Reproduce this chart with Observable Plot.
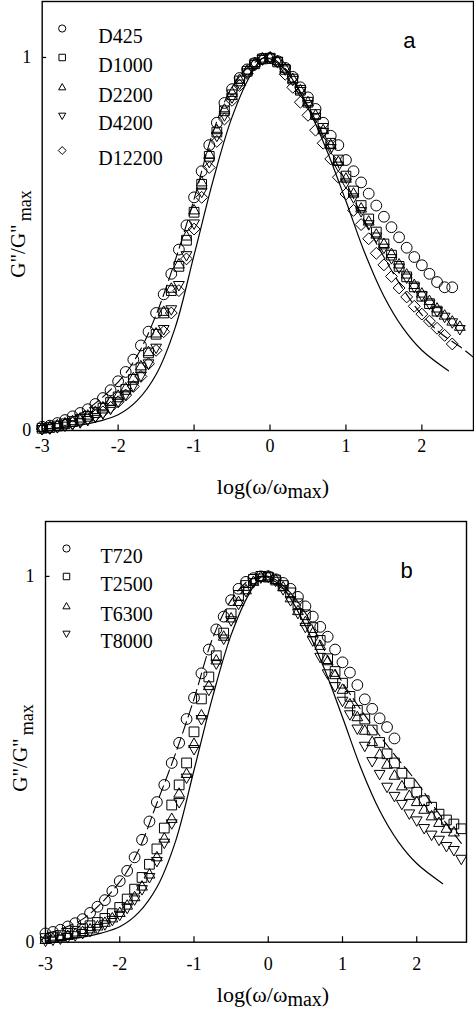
<!DOCTYPE html>
<html>
<head>
<meta charset="utf-8">
<script src="https://cdn.jsdelivr.net/npm/d3@7"></script>
<script src="https://cdn.jsdelivr.net/npm/@observablehq/plot@0.6"></script>
<style>
  body { margin: 0; background: #fff; }
  #chart { width: 474px; }
  #chart svg { display: block; }
  #chart svg text, #chart svg tspan { font-family: "Liberation Serif", "Times New Roman", Times, "DejaVu Serif", serif; }
  #chart svg g.letter text { font-family: "Liberation Sans", Arial, "DejaVu Sans", sans-serif; }
</style>
</head>
<body>
<div id="chart"></div>
<script>
// ---------- panel a: polymer series D ----------
const xA = [-3.0, -2.9, -2.8, -2.7, -2.6, -2.5, -2.4, -2.3, -2.2, -2.1,
            -2.0, -1.9, -1.8, -1.7, -1.6, -1.5, -1.4, -1.3, -1.2, -1.1,
            -1.0, -0.9, -0.8, -0.7, -0.6, -0.5, -0.4, -0.3, -0.2, -0.1,
             0.0,  0.1,  0.2,  0.3,  0.4,  0.5,  0.6,  0.7,  0.8,  0.9,
             1.0,  1.1,  1.2,  1.3,  1.4,  1.5,  1.6,  1.7,  1.8,  1.9,
             2.0,  2.1,  2.2,  2.3,  2.4,  2.5];
const seriesA = ["D425", "D1000", "D2200", "D4200", "D12200"];
const D425 = [0.010, 0.013, 0.020, 0.028, 0.038, 0.047, 0.057, 0.071, 0.087, 0.108,
              0.132, 0.157, 0.190, 0.228, 0.265, 0.315, 0.365, 0.420, 0.485, 0.550,
              0.625, 0.695, 0.765, 0.825, 0.878, 0.915, 0.945, 0.968, 0.985, 0.997,
              0.998, 0.990, 0.972, 0.948, 0.920, 0.893, 0.862, 0.825, 0.790, 0.765,
              0.725, 0.695, 0.665, 0.635, 0.603, 0.573, 0.545, 0.518, 0.490, 0.465,
              0.443, 0.420, 0.398, 0.384, 0.384, null];
const D1000 = [0.006, 0.008, 0.012, 0.018, 0.024, 0.030, 0.038, 0.048, 0.060, 0.075,
               0.090, 0.110, 0.137, 0.168, 0.208, 0.258, 0.315, 0.375, 0.440, 0.510,
               0.585, 0.660, 0.735, 0.800, 0.857, 0.900, 0.937, 0.963, 0.983, 0.996,
               0.998, 0.988, 0.968, 0.942, 0.912, 0.880, 0.847, 0.810, 0.770, 0.725,
               0.682, 0.642, 0.603, 0.567, 0.532, 0.500, 0.470, 0.440, 0.412, 0.385,
               0.360, 0.340, 0.320, null, null, null];
const D2200 = [0.007, 0.010, 0.014, 0.019, 0.025, 0.032, 0.040, 0.050, 0.062, 0.077,
               0.093, 0.113, 0.140, 0.172, 0.210, 0.260, 0.318, 0.380, 0.445, 0.520,
               0.590, 0.665, 0.740, 0.805, 0.860, 0.905, 0.940, 0.965, 0.985, 0.997,
               0.999, 0.990, 0.970, 0.942, 0.912, 0.880, 0.845, 0.805, 0.765, 0.720,
               0.675, 0.635, 0.595, 0.560, 0.525, 0.500, 0.473, 0.445, 0.418, 0.390,
               0.367, 0.347, 0.327, 0.308, 0.292, 0.278];
const D4200 = [0.004, 0.006, 0.009, 0.013, 0.017, 0.022, 0.028, 0.036, 0.046, 0.058,
               0.078, 0.097, 0.120, 0.147, 0.180, 0.222, 0.272, 0.325, 0.390, 0.470,
               0.555, 0.640, 0.720, 0.790, 0.845, 0.893, 0.930, 0.960, 0.982, 0.996,
               1.000, 0.990, 0.968, 0.940, 0.910, 0.875, 0.840, 0.800, 0.757, 0.710,
               0.665, 0.625, 0.588, 0.553, 0.520, 0.490, 0.462, 0.437, 0.410, 0.385,
               0.362, 0.340, 0.320, 0.305, 0.290, 0.272];
const D12200 = [0.004, 0.006, 0.010, 0.015, 0.020, 0.025, 0.032, 0.040, 0.050, 0.062,
                0.077, 0.095, 0.118, 0.145, 0.179, 0.215, 0.265, 0.315, 0.375, 0.460,
                0.540, 0.625, 0.705, 0.775, 0.835, 0.885, 0.925, 0.957, 0.980, 0.995,
                1.000, 0.988, 0.955, 0.920, 0.880, 0.845, 0.805, 0.770, 0.728, 0.679,
                0.634, 0.590, 0.552, 0.514, 0.475, 0.444, 0.413, 0.382, 0.358, 0.333,
                0.312, 0.293, 0.274, 0.255, 0.232, null];
// fitted curve drawn dashed in panel a
const xFitA = [-3.0, -2.5, -2.0, -1.75, -1.5, -1.25, -1.0, -0.75, -0.5, -0.25, 0.0,
               0.25, 0.5, 0.75, 1.0, 1.25, 1.5, 1.75, 2.0, 2.25, 2.5, 2.68];
const fitA  = [0.012, 0.045, 0.130, 0.200, 0.310, 0.455, 0.620, 0.800, 0.920, 0.980, 1.000,
               0.955, 0.870, 0.770, 0.665, 0.560, 0.465, 0.380, 0.310, 0.260, 0.225, 0.196];

// ---------- panel b: polymer series T ----------
const xB = [-3.0, -2.9, -2.8, -2.7, -2.6, -2.5, -2.4, -2.3, -2.2, -2.1,
            -2.0, -1.9, -1.8, -1.7, -1.6, -1.5, -1.4, -1.3, -1.2, -1.1,
            -1.0, -0.9, -0.8, -0.7, -0.6, -0.5, -0.4, -0.3, -0.2, -0.1,
             0.0,  0.1,  0.2,  0.3,  0.4,  0.5,  0.6,  0.7,  0.8,  0.9,
             1.0,  1.1,  1.2,  1.3,  1.4,  1.5,  1.6,  1.7,  1.8,  1.9,
             2.0,  2.1,  2.2,  2.3,  2.4,  2.5,  2.6];
const seriesB = ["T720", "T2500", "T6300", "T8000"];
const T720 = [0.024, 0.028, 0.034, 0.043, 0.052, 0.063, 0.080, 0.097, 0.115, 0.140,
              0.167, 0.195, 0.232, 0.280, 0.330, 0.383, 0.430, 0.490, 0.545, 0.610,
              0.668, 0.735, 0.800, 0.855, 0.890, 0.935, 0.966, 0.985, 0.995, 1.000,
              1.000, 0.992, 0.982, 0.966, 0.944, 0.918, 0.890, 0.862, 0.835, 0.800,
              0.765, 0.737, 0.703, 0.664, 0.638, 0.612, 0.588, 0.557, null, null,
              null, null, null, null, null, null, null];
const T2500 = [0.010, 0.014, 0.018, 0.024, 0.030, 0.037, 0.045, 0.054, 0.065, 0.078,
               0.095, 0.118, 0.145, 0.177, 0.213, 0.255, 0.312, 0.375, 0.430, 0.490,
               0.575, 0.665, 0.725, 0.783, 0.845, 0.898, 0.948, 0.975, 0.992, 1.000,
               0.998, 0.990, 0.975, 0.955, 0.925, 0.895, 0.860, 0.825, 0.775, 0.740,
               0.708, 0.672, 0.634, 0.610, 0.580, 0.546, 0.515, 0.490, 0.462, 0.435,
               0.410, 0.387, 0.369, 0.350, 0.334, 0.323, 0.310];
const T6300 = [0.006, 0.009, 0.013, 0.017, 0.022, 0.028, 0.035, 0.043, 0.053, 0.065,
               0.080, 0.100, 0.123, 0.152, 0.185, 0.232, 0.283, 0.337, 0.406, 0.460,
               0.542, 0.620, 0.700, 0.770, 0.835, 0.885, 0.930, 0.962, 0.985, 0.998,
               1.000, 0.990, 0.970, 0.940, 0.905, 0.875, 0.845, 0.810, 0.768, 0.730,
               0.690, 0.650, 0.615, 0.578, 0.547, 0.513, 0.485, 0.455, 0.426, 0.400,
               0.383, 0.362, 0.344, 0.326, 0.310, 0.300, null];
const T8000 = [0.004, 0.007, 0.010, 0.014, 0.019, 0.025, 0.031, 0.039, 0.049, 0.061,
               0.075, 0.094, 0.117, 0.145, 0.178, 0.222, 0.272, 0.325, 0.383, 0.450,
               0.528, 0.610, 0.690, 0.762, 0.830, 0.880, 0.925, 0.960, 0.984, 0.997,
               1.000, 0.988, 0.965, 0.935, 0.900, 0.862, 0.825, 0.780, 0.735, 0.700,
               0.660, 0.623, 0.584, 0.537, 0.495, 0.460, 0.425, 0.400, 0.378, 0.352,
               0.333, 0.312, 0.294, 0.280, 0.263, 0.252, 0.228];
// fitted curve drawn dashed in panel b
const xFitB = [-3.0, -2.5, -2.0, -1.75, -1.5, -1.25, -1.0, -0.75, -0.5, -0.25, 0.0,
               0.25, 0.5, 0.75, 1.0, 1.25, 1.5, 1.75, 2.0, 2.25, 2.6];
const fitB  = [0.022, 0.063, 0.165, 0.250, 0.380, 0.515, 0.665, 0.830, 0.935, 0.990, 1.000,
               0.965, 0.900, 0.800, 0.710, 0.635, 0.565, 0.500, 0.438, 0.365, 0.270];

// ---------- model curve (solid) shared by both panels ----------
const xModel = [-3.0, -2.75, -2.5, -2.25, -2.0, -1.75, -1.5, -1.25, -1.0, -0.75, -0.5, -0.25,
                -0.08, 0.1, 0.25, 0.5, 0.75, 1.0, 1.25, 1.5, 1.75, 2.0, 2.35];
const model  = [0.004, 0.008, 0.014, 0.025, 0.042, 0.080, 0.150, 0.275, 0.470, 0.670, 0.840, 0.955,
                1.000, 0.985, 0.955, 0.865, 0.750, 0.615, 0.475, 0.360, 0.275, 0.215, 0.160];

const xTicks = [-3, -2, -1, 0, 1, 2];
const yTicks = [0, 1];

// ---------- marker shapes ----------
const rad = size => Math.sqrt(size / Math.PI);
const shapes = {
  circle: "circle",
  square: {draw(c, size) { const h = rad(size) * 0.9; c.rect(-h, -h, 2 * h, 2 * h); }},
  triangleUp: {draw(c, size) { const r = rad(size); c.moveTo(0, -1.1 * r); c.lineTo(r, 0.65 * r); c.lineTo(-r, 0.65 * r); c.closePath(); }},
  triangleDown: {draw(c, size) { const r = rad(size); c.moveTo(0, 1.1 * r); c.lineTo(r, -0.65 * r); c.lineTo(-r, -0.65 * r); c.closePath(); }},
  diamond: {draw(c, size) { const r = rad(size) * 1.1; c.moveTo(0, -r); c.lineTo(r, 0); c.lineTo(0, r); c.lineTo(-r, 0); c.closePath(); }}
};
const tickUp = {draw(c) { c.moveTo(0, 0); c.lineTo(0, -6); }};
const tickRight = {draw(c) { c.moveTo(0, 0); c.lineTo(4, 0); }};

const SERIF = "Liberation Serif";
const rows = (xs, ys) => xs.map((x, i) => ({x, y: ys[i]})).filter(d => d.y != null);

function panel(cfg) {
  const marks = [
    Plot.frame({stroke: "black", strokeWidth: 1.4}),
    Plot.line(rows(xModel, model), {x: "x", y: "y", curve: "catmull-rom", stroke: "black", strokeWidth: 1.2}),
    Plot.line(rows(cfg.xFit, cfg.fit), {x: "x", y: "y", curve: "catmull-rom", stroke: "black", strokeWidth: 1.1, strokeDasharray: "12,5"}),
    Plot.dot(xTicks, {x: d => d, frameAnchor: "bottom", symbol: tickUp, stroke: "black", strokeWidth: 1.2}),
    Plot.dot(yTicks, {y: d => d, frameAnchor: "left", symbol: tickRight, stroke: "black", strokeWidth: 1.2}),
    Plot.text(xTicks, {x: d => d, frameAnchor: "bottom", dy: cfg.xLabelGap, lineAnchor: "top", text: d => String(d), fontSize: 18, fontFamily: SERIF}),
    Plot.text(yTicks, {y: d => d, frameAnchor: "left", dx: cfg.yLabelGap, textAnchor: "end", text: d => String(d), fontSize: 18, fontFamily: SERIF}),
    Plot.text([cfg.letter], {frameAnchor: "top-left", dx: cfg.letterPos[0], dy: cfg.letterPos[1], text: d => d, className: "letter", fontFamily: "Liberation Sans", fontSize: 22})
  ];
  cfg.series.forEach((s, k) => {
    marks.push(Plot.dot(rows(cfg.x, s.values), {x: "x", y: "y", symbol: s.shape, r: 5.4, stroke: "black", strokeWidth: 1, fill: "none"}));
    marks.push(Plot.dot([s.name], {frameAnchor: "top-left", dx: cfg.legend.symbolX, dy: cfg.legend.rowY[k], symbol: s.shape, r: 3.6, stroke: "black", strokeWidth: 1, fill: "none"}));
    marks.push(Plot.text([s.name], {frameAnchor: "top-left", dx: cfg.legend.textX, dy: cfg.legend.rowY[k], text: d => d, textAnchor: "start", fontSize: 20, fontFamily: SERIF}));
  });
  const svg = Plot.plot({
    width: 474,
    height: 505,
    marginTop: cfg.margins[0], marginRight: cfg.margins[1], marginBottom: cfg.margins[2], marginLeft: cfg.margins[3],
    x: {domain: cfg.xDomain, axis: null},
    y: {domain: [0, 1.15], axis: null},
    style: {fontSize: "18px", background: "white", color: "black", overflow: "visible"},
    marks
  });
  const s = d3.select(svg);
  const xt = s.append("text")
    .attr("x", cfg.xTitle[0]).attr("y", cfg.xTitle[1])
    .attr("text-anchor", "middle").attr("font-size", 22).attr("fill", "black")
    .attr("font-family", SERIF);
  xt.append("tspan").text("log(ω/ω");
  xt.append("tspan").attr("dy", 4).attr("font-size", 20).text("max");
  xt.append("tspan").attr("dy", -4).text(")");
  const yt = s.append("text")
    .attr("transform", `translate(${cfg.yTitle[0]},${cfg.yTitle[1]}) rotate(-90)`)
    .attr("text-anchor", "middle").attr("font-size", 21).attr("fill", "black")
    .attr("font-family", SERIF);
  yt.append("tspan").text('G"/G"');
  yt.append("tspan").attr("dx", 3).attr("dy", 6).attr("font-size", 18).text("max");
  return svg;
}

const chart = document.getElementById("chart");

chart.appendChild(panel({
  letter: "a",
  letterPos: [361, 31],
  margins: [1, 1, 75, 41.7],
  xDomain: [-3, 2.68],
  x: xA,
  xFit: xFitA, fit: fitA,
  series: [
    {name: seriesA[0], values: D425, shape: shapes.circle},
    {name: seriesA[1], values: D1000, shape: shapes.square},
    {name: seriesA[2], values: D2200, shape: shapes.triangleUp},
    {name: seriesA[3], values: D4200, shape: shapes.triangleDown},
    {name: seriesA[4], values: D12200, shape: shapes.diamond}
  ],
  legend: {symbolX: 20, textX: 56, rowY: [27, 56, 86, 114, 149]},
  xLabelGap: 9,
  yLabelGap: -11,
  xTitle: [273, 494],
  yTitle: [25, 234]
}));

chart.appendChild(panel({
  letter: "b",
  letterPos: [355, 41],
  margins: [16, 8, 68.3, 45],
  xDomain: [-3, 2.67],
  x: xB,
  xFit: xFitB, fit: fitB,
  series: [
    {name: seriesB[0], values: T720, shape: shapes.circle},
    {name: seriesB[1], values: T2500, shape: shapes.square},
    {name: seriesB[2], values: T6300, shape: shapes.triangleUp},
    {name: seriesB[3], values: T8000, shape: shapes.triangleDown}
  ],
  legend: {symbolX: 21, textX: 55, rowY: [27, 55, 85, 112]},
  xLabelGap: 15,
  yLabelGap: -11,
  xTitle: [273, 497],
  yTitle: [27, 243]
}));
</script>
</body>
</html>
